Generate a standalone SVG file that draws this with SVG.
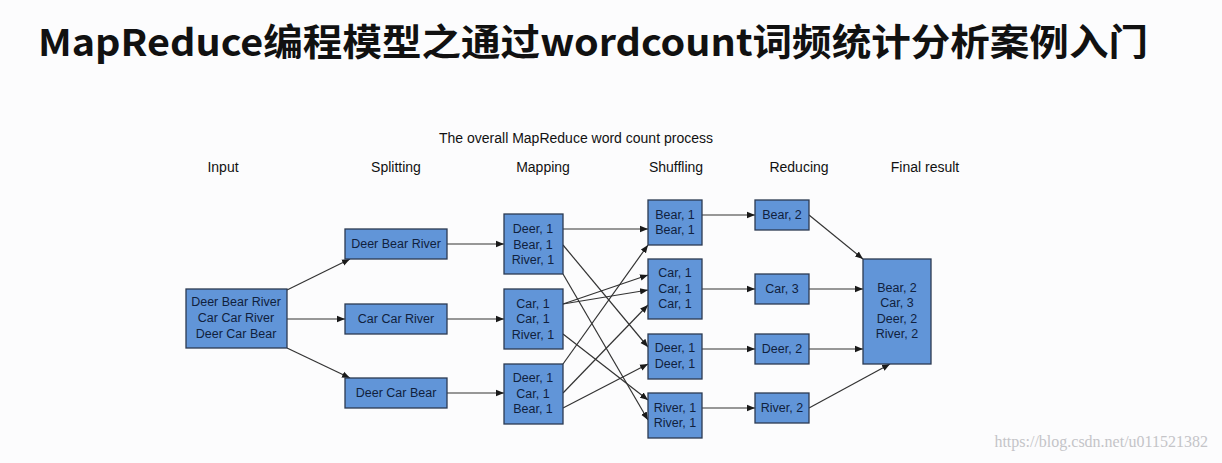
<svg xmlns="http://www.w3.org/2000/svg" width="1222" height="463" viewBox="0 0 1222 463">
<defs>
<marker id="ah" viewBox="0 0 10 10" refX="10" refY="5" markerWidth="8" markerHeight="8" orient="auto-start-reverse" markerUnits="userSpaceOnUse"><path d="M0,1 L10,5 L0,9 z" fill="#1a1a1a"/></marker>
<style>
.b{fill:#6195d8;stroke:#2b3a52;stroke-width:1.3}
.t{font-family:"Liberation Sans",Arial,sans-serif;font-size:12.5px;fill:#10213d;text-anchor:middle}
.h{font-family:"Liberation Sans",Arial,sans-serif;font-size:14px;fill:#111;text-anchor:middle}
.c line{stroke:#333;stroke-width:1.2;marker-end:url(#ah)}
</style>
</defs>
<rect width="1222" height="463" fill="#fcfcfd"/>
<text x="38" y="56" font-family="'Noto Sans CJK SC','Liberation Sans',sans-serif" font-weight="bold" font-size="37" fill="#111" textLength="1110" lengthAdjust="spacingAndGlyphs">MapReduce编程模型之通过wordcount词频统计分析案例入门</text>
<text class="h" x="576" y="143">The overall MapReduce word count process</text>
<text class="h" x="223" y="172">Input</text>
<text class="h" x="396" y="172">Splitting</text>
<text class="h" x="543" y="172">Mapping</text>
<text class="h" x="676" y="172">Shuffling</text>
<text class="h" x="799" y="172">Reducing</text>
<text class="h" x="925" y="172">Final result</text>
<g class="c">
<line x1="287" y1="290" x2="350" y2="259"/>
<line x1="287" y1="319" x2="345" y2="319"/>
<line x1="287" y1="348" x2="350" y2="378"/>
<line x1="447" y1="244" x2="504" y2="244"/>
<line x1="447" y1="319" x2="504" y2="319"/>
<line x1="447" y1="393" x2="504" y2="393"/>
<line x1="563" y1="229" x2="648" y2="229"/>
<line x1="563" y1="245" x2="648" y2="347"/>
<line x1="563" y1="274" x2="648" y2="420"/>
<line x1="563" y1="304" x2="648" y2="275"/>
<line x1="563" y1="304" x2="648" y2="290"/>
<line x1="563" y1="334" x2="648" y2="400"/>
<line x1="563" y1="364" x2="648" y2="245"/>
<line x1="563" y1="393" x2="648" y2="305"/>
<line x1="563" y1="408" x2="648" y2="364"/>
<line x1="702" y1="215" x2="755" y2="215"/>
<line x1="702" y1="289" x2="755" y2="289"/>
<line x1="702" y1="349" x2="755" y2="349"/>
<line x1="702" y1="408" x2="755" y2="408"/>
<line x1="809" y1="215" x2="863" y2="259"/>
<line x1="809" y1="289" x2="863" y2="289"/>
<line x1="809" y1="349" x2="863" y2="349"/>
<line x1="809" y1="408" x2="890" y2="364"/>
</g>
<g id="input"><rect class="b" x="186" y="289" width="101" height="59"/><text class="t" x="236" y="306">Deer Bear River</text><text class="t" x="236" y="322">Car Car River</text><text class="t" x="236" y="338">Deer Car Bear</text></g>
<g id="split1"><rect class="b" x="345" y="229" width="102" height="30"/><text class="t" x="396" y="248">Deer Bear River</text></g>
<g id="split2"><rect class="b" x="345" y="304" width="102" height="30"/><text class="t" x="396" y="323">Car Car River</text></g>
<g id="split3"><rect class="b" x="345" y="378" width="102" height="30"/><text class="t" x="396" y="397">Deer Car Bear</text></g>
<g id="map1"><rect class="b" x="504" y="214" width="59" height="60"/><text class="t" x="533" y="233">Deer, 1</text><text class="t" x="533" y="249">Bear, 1</text><text class="t" x="533" y="264">River, 1</text></g>
<g id="map2"><rect class="b" x="504" y="289" width="59" height="60"/><text class="t" x="533" y="308">Car, 1</text><text class="t" x="533" y="323">Car, 1</text><text class="t" x="533" y="339">River, 1</text></g>
<g id="map3"><rect class="b" x="504" y="364" width="59" height="60"/><text class="t" x="533" y="382">Deer, 1</text><text class="t" x="533" y="398">Car, 1</text><text class="t" x="533" y="413">Bear, 1</text></g>
<g id="sh1"><rect class="b" x="648" y="200" width="54" height="45"/><text class="t" x="675" y="219">Bear, 1</text><text class="t" x="675" y="234">Bear, 1</text></g>
<g id="sh2"><rect class="b" x="648" y="259" width="54" height="60"/><text class="t" x="675" y="277">Car, 1</text><text class="t" x="675" y="293">Car, 1</text><text class="t" x="675" y="308">Car, 1</text></g>
<g id="sh3"><rect class="b" x="648" y="334" width="54" height="45"/><text class="t" x="675" y="352">Deer, 1</text><text class="t" x="675" y="368">Deer, 1</text></g>
<g id="sh4"><rect class="b" x="648" y="393" width="54" height="45"/><text class="t" x="675" y="412">River, 1</text><text class="t" x="675" y="427">River, 1</text></g>
<g id="r1"><rect class="b" x="755" y="200" width="54" height="30"/><text class="t" x="782" y="219">Bear, 2</text></g>
<g id="r2"><rect class="b" x="755" y="274" width="54" height="30"/><text class="t" x="782" y="293">Car, 3</text></g>
<g id="r3"><rect class="b" x="755" y="334" width="54" height="30"/><text class="t" x="782" y="353">Deer, 2</text></g>
<g id="r4"><rect class="b" x="755" y="393" width="54" height="30"/><text class="t" x="782" y="412">River, 2</text></g>
<g id="final"><rect class="b" x="863" y="259" width="68" height="105"/><text class="t" x="897" y="292">Bear, 2</text><text class="t" x="897" y="307">Car, 3</text><text class="t" x="897" y="323">Deer, 2</text><text class="t" x="897" y="338">River, 2</text></g>
<text x="1208" y="447" text-anchor="end" font-family="'Liberation Serif',serif" font-size="16" fill="#c4c4c8">https://blog.csdn.net/u011521382</text>
</svg>
